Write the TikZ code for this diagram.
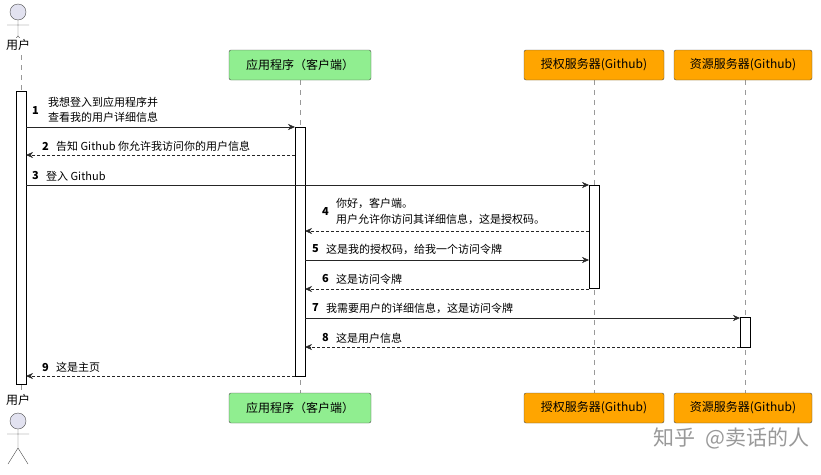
\documentclass[tikz,border=0pt]{standalone}
\usepackage{fontspec}
\setmainfont{Noto Sans CJK SC}
\usetikzlibrary{arrows.meta}
\definecolor{lgreen}{HTML}{90EE90}
\definecolor{orng}{HTML}{FFA500}
\definecolor{actfill}{HTML}{E2E2F0}
\tikzset{
  x=1pt,y=-1pt,
  part/.style={draw=black!70,rounded corners=2pt,minimum height=30pt,inner sep=0pt,font=\fontsize{12}{14}\selectfont},
  life/.style={draw=black!40,dashed,dash pattern=on 5pt off 5pt},
  actbar/.style={draw=black,fill=white},
  msg/.style={-{Stealth[length=7pt,width=6pt]},black!85},
  ret/.style={msg,dashed,dash pattern=on 3pt off 2pt},
  lbl/.style={anchor=west,font=\fontsize{11}{13}\selectfont,inner sep=0pt},
  num/.style={anchor=west,font=\fontsize{11}{13}\selectfont\bfseries,inner sep=0pt},
  actor/.style={draw=black!70,fill=actfill}
}
\begin{document}
\begin{tikzpicture}
\useasboundingbox (0,0) rectangle (821,474);
% lifelines
\draw[life] (21,55) -- (21,395);
\draw[life] (300,80) -- (300,393);
\draw[life] (594,80) -- (594,393);
\draw[life] (745,80) -- (745,393);
% participants
\node[part,fill=lgreen,minimum width=142pt] (appT) at (300,65) {应用程序（客户端）};
\node[part,fill=lgreen,minimum width=142pt] (appB) at (300,408) {应用程序（客户端）};
\node[part,fill=orng,minimum width=140pt] (authT) at (594,65) {授权服务器(Github)};
\node[part,fill=orng,minimum width=140pt] (authB) at (594,408) {授权服务器(Github)};
\node[part,fill=orng,minimum width=138pt] (resT) at (743,65) {资源服务器(Github)};
\node[part,fill=orng,minimum width=138pt] (resB) at (743,408) {资源服务器(Github)};
% actors
\draw[actor] (18,12) circle (8);
\draw[draw=black!70] (18,20) -- (18,36) (7,25) -- (29,25) (18,36) -- (8,48) (18,36) -- (28,48);
\node[font=\fontsize{12}{14}\selectfont,fill=white,inner sep=1pt] (userT) at (18,45) {用户};
\node[font=\fontsize{12}{14}\selectfont] (userB) at (18,400) {用户};
\draw[actor] (18,421) circle (8);
\draw[draw=black!70] (18,429) -- (18,448) (7,434) -- (29,434) (18,448) -- (8,464) (18,448) -- (28,464);
% activations
\node[actbar,minimum width=10pt,minimum height=293pt,inner sep=0pt,anchor=north] (uA) at (21,91) {};
\node[actbar,minimum width=10pt,minimum height=249pt,inner sep=0pt,anchor=north] (aA) at (300,127) {};
\node[actbar,minimum width=10pt,minimum height=103pt,inner sep=0pt,anchor=north] (sA) at (594,185) {};
\node[actbar,minimum width=10pt,minimum height=30pt,inner sep=0pt,anchor=north] (rA) at (745,317) {};
% messages
\coordinate (m1a) at (26,127); \coordinate (m1b) at (295,127);
\draw[msg] (m1a) -- (m1b);
\node[num] at (32,111) {1};
\node[lbl] at (48,102) {我想登入到应用程序并};
\node[lbl] at (48,117) {查看我的用户详细信息};
\coordinate (m2a) at (295,155); \coordinate (m2b) at (26,155);
\draw[ret] (m2a) -- (m2b);
\node[num] at (42,146) {2};
\node[lbl] at (56,146) {告知 Github 你允许我访问你的用户信息};
\coordinate (m3a) at (26,185); \coordinate (m3b) at (589,185);
\draw[msg] (m3a) -- (m3b);
\node[num] at (32,176) {3};
\node[lbl] at (46,176) {登入 Github};
\coordinate (m4a) at (589,231); \coordinate (m4b) at (305,231);
\draw[ret] (m4a) -- (m4b);
\node[num] at (322,212) {4};
\node[lbl] at (336,203) {你好，客户端。};
\node[lbl] at (336,219) {用户允许你访问其详细信息，这是授权码。};
\coordinate (m5a) at (305,260); \coordinate (m5b) at (589,260);
\draw[msg] (m5a) -- (m5b);
\node[num] at (312,249) {5};
\node[lbl] at (326,249) {这是我的授权码，给我一个访问令牌};
\coordinate (m6a) at (589,289); \coordinate (m6b) at (305,289);
\draw[ret] (m6a) -- (m6b);
\node[num] at (322,279) {6};
\node[lbl] at (336,279) {这是访问令牌};
\coordinate (m7a) at (305,318); \coordinate (m7b) at (740,318);
\draw[msg] (m7a) -- (m7b);
\node[num] at (312,308) {7};
\node[lbl] at (326,308) {我需要用户的详细信息，这是访问令牌};
\coordinate (m8a) at (740,347); \coordinate (m8b) at (305,347);
\draw[ret] (m8a) -- (m8b);
\node[num] at (322,338) {8};
\node[lbl] at (336,338) {这是用户信息};
\coordinate (m9a) at (295,376); \coordinate (m9b) at (26,376);
\draw[ret] (m9a) -- (m9b);
\node[num] at (42,367) {9};
\node[lbl] at (56,367) {这是主页};
% watermark
\node[font=\fontsize{21}{24}\selectfont,text=black!40,anchor=east,inner sep=0pt] (wm) at (810,438) {知乎\hspace{10pt}@卖话的人};
\end{tikzpicture}
\end{document}
